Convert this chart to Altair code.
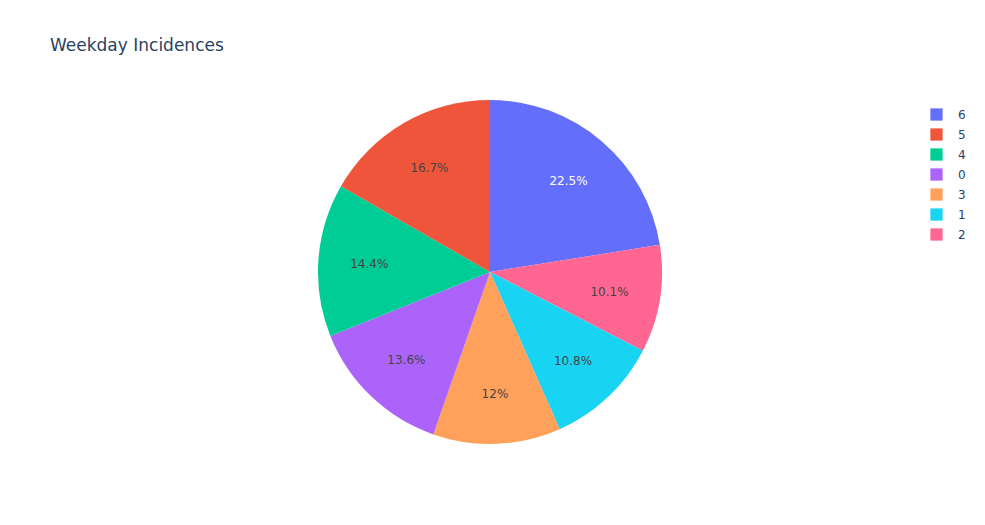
import altair as alt
import pandas as pd

days = ["6", "2", "1", "3", "0", "4", "5"]
pcts = [22.5, 10.1, 10.8, 12.0, 13.6, 14.4, 16.7]
labels = ["22.5%", "10.1%", "10.8%", "12%", "13.6%", "14.4%", "16.7%"]
legend_order = ["6", "5", "4", "0", "3", "1", "2"]
colors = ["#636efa", "#EF553B", "#00cc96", "#ab63fa", "#FFA15A", "#19d3f3", "#FF6692"]

df = pd.DataFrame({"day": days, "pct": pcts, "label": labels, "ord": list(range(len(days)))})

FONT = "DejaVu Sans"
CX, CY = 482, 264

base = alt.Chart(df).encode(
    theta=alt.Theta("pct:Q", stack=True),
    order=alt.Order("ord:Q"),
)

arcs = base.mark_arc(outerRadius=172, strokeWidth=0).encode(
    x=alt.value(CX),
    y=alt.value(CY),
    color=alt.Color(
        "day:N",
        scale=alt.Scale(domain=legend_order, range=colors),
        sort=legend_order,
        legend=alt.Legend(
            title=None,
            orient="none",
            legendX=922,
            legendY=100,
            symbolType="square",
            symbolSize=150,
            symbolStrokeWidth=0,
            symbolOpacity=1,
            labelFont=FONT,
            labelFontSize=12,
            labelColor="#2a3f5f",
            labelOffset=15,
            rowPadding=7,
            padding=0,
        ),
    ),
)

text = base.mark_text(radius=121, font=FONT, fontSize=12).encode(
    x=alt.value(CX),
    y=alt.value(CY + 1),
    text="label:N",
    color=alt.condition(alt.datum.day == "6", alt.value("white"), alt.value("#444444")),
)

chart = (
    alt.layer(arcs, text)
    .properties(
        width=969,
        height=509,
        padding=0,
        background="white",
        autosize=alt.AutoSizeParams(type="none"),
        title=alt.TitleParams(
            "Weekday Incidences",
            anchor="start",
            frame="group",
            font=FONT,
            fontSize=17,
            fontWeight="normal",
            color="#2a3f5f",
            dx=42,
            dy=51,
        ),
    )
    .configure_view(stroke=None, strokeWidth=0)
)

chart.save("out.html", embed_options={"renderer": "svg", "actions": False})
